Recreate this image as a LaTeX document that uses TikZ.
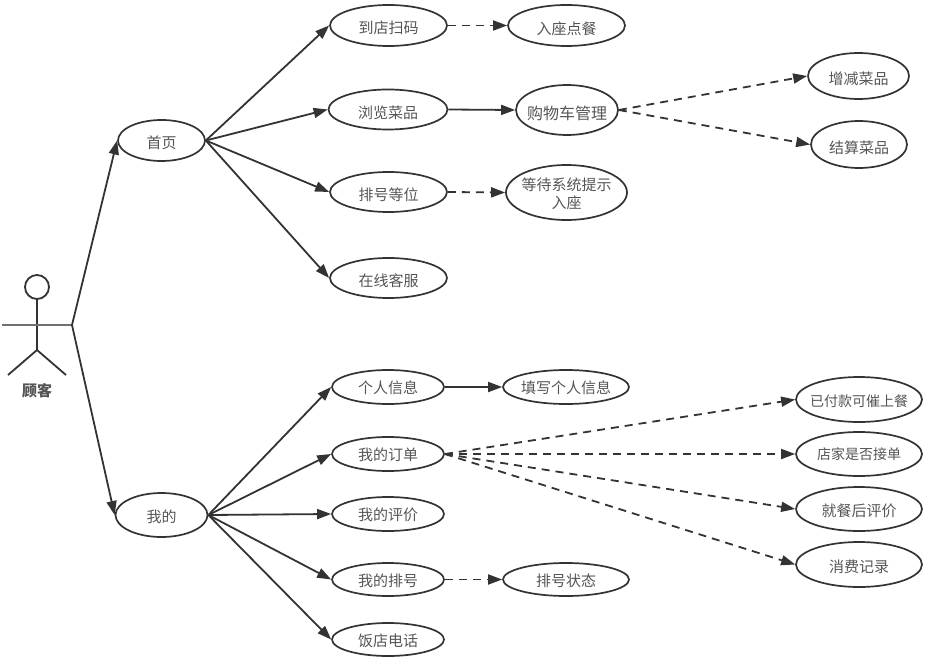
\documentclass[tikz,border=0pt]{standalone}
\usepackage{fontspec}
\newfontfamily\cjk{Noto Sans CJK SC}
\usetikzlibrary{arrows.meta,shapes.geometric}
\definecolor{ln}{HTML}{333333}
\definecolor{tx}{HTML}{555555}
\tikzset{x=1pt,y=-1pt,
uc/.style={draw=ln,ellipse,line width=1.7pt,inner sep=0pt,font=\cjk\fontsize{#1}{18}\selectfont,text=tx},
uc/.default=15,
sol/.style={draw=ln,line width=1.8pt,-{Triangle[length=14pt,width=10pt]}},
das/.style={sol,dash pattern=on 8pt off 6pt}}
\newcommand{\lbl}[2]{\makebox[0pt]{\smash{\raisebox{\dimexpr -#1pt-0.38em\relax}{#2}}}}
\newcommand{\uca}[7]{\node[uc=#6,minimum width=#4pt,minimum height=#5pt] (#1) at (#2,#3) {\lbl{#7}{#1}};}
\begin{document}
\begin{tikzpicture}
\useasboundingbox (0,0) rectangle (933,663);
\draw[draw=ln,line width=1.8pt] (37,287) circle (12);
\coordinate (hip) at (37,350); \coordinate (neck) at (37,299);
\coordinate (armL) at (2,325); \coordinate (armR) at (72,325);
\coordinate (legL) at (8,375); \coordinate (legR) at (66,375);
\draw[draw=ln,line width=1.8pt] (neck)--(hip) (legL)--(hip)--(legR);
\draw[draw=ln!70!white,line width=2pt] (armL)--(armR);
\node[font=\cjk\bfseries\fontsize{15}{18}\selectfont,text=tx] (gk) at (37,391) {顾客};
\uca{首页}{161.5}{140.5}{87}{41}{15}{2.5}
\uca{我的}{161.5}{515}{92}{44}{15}{2}
\uca{到店扫码}{388.5}{25.5}{117}{41}{15}{2.5}
\uca{入座点餐}{566.5}{25.5}{117}{41}{15}{3}
\uca{浏览菜品}{388}{109.5}{119}{40}{15}{3}
\uca{购物车管理}{567}{110}{102}{50}{16}{3}
\uca{增减菜品}{858.5}{76}{101}{46}{15}{3}
\uca{结算菜品}{859}{144.5}{96}{47}{15}{3.5}
\uca{排号等位}{388.5}{192}{117}{40}{15}{3}
\node[uc=15,minimum width=121pt,minimum height=55pt] (等待) at (566.5,192.5) {\lbl{-7.5}{等待系统提示}\lbl{10.5}{入座}};
\uca{在线客服}{388.5}{278}{117}{40}{15}{3}
\uca{个人信息}{388}{387}{112}{34}{15}{1}
\uca{填写个人信息}{566}{387}{126}{34}{15}{1}
\uca{我的订单}{388}{454}{112}{34}{15}{1}
\uca{我的评价}{388}{514}{112}{34}{15}{1}
\uca{我的排号}{388}{579.5}{112}{33}{15}{1.5}
\uca{排号状态}{566}{579.5}{126}{33}{15}{1.5}
\uca{饭店电话}{388}{639.5}{112}{33}{15}{1.5}
\uca{已付款可催上餐}{859}{399.5}{126}{45}{14}{1.5}
\uca{店家是否接单}{859}{454}{126}{44}{14}{0.5}
\uca{就餐后评价}{859}{509}{126}{44}{15}{2}
\uca{消费记录}{859}{564.5}{126}{45}{15}{2.5}
\draw[sol] (armR)--(首页.west);
\draw[sol] (armR)--(我的.west);
\foreach \t in {到店扫码,浏览菜品,排号等位,在线客服}{\draw[sol] (首页.east)--(\t.west);}
\foreach \t in {个人信息,我的订单,我的评价,我的排号,饭店电话}{\draw[sol] (我的.east)--(\t.west);}
\draw[das] (到店扫码.east)--(入座点餐.west);
\draw[sol] (浏览菜品.east)--(购物车管理.west);
\draw[das] (购物车管理.east)--(增减菜品.west);
\draw[das] (购物车管理.east)--(结算菜品.west);
\draw[das] (排号等位.east)--(等待.west);
\draw[sol] (个人信息.east)--(填写个人信息.west);
\foreach \t in {已付款可催上餐,店家是否接单,就餐后评价,消费记录}{\draw[das] (我的订单.east)--(\t.west);}
\draw[das] (我的排号.east)--(排号状态.west);
\end{tikzpicture}
\end{document}
